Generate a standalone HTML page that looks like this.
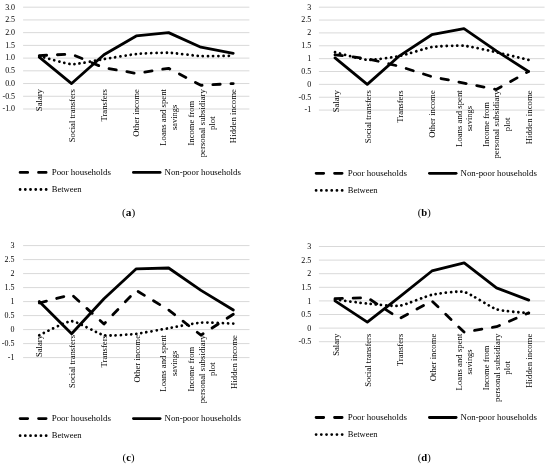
<!DOCTYPE html>
<html><head><meta charset="utf-8"><title>Figure</title>
<style>
html,body{margin:0;padding:0;background:#fff;}
svg{display:block;font-family:"Liberation Serif", serif;fill:#000;}
</style></head><body>
<svg width="550" height="467" viewBox="0 0 550 467">
<rect width="550" height="467" fill="#fff"/>
<g>
<line x1="23.10" x2="249.40" y1="7.20" y2="7.20" stroke="#d9d9d9" stroke-width="1"/>
<text transform="translate(15.10 9.55) scale(1.05 1)" text-anchor="end" font-size="7.60">3.0</text>
<line x1="23.10" x2="249.40" y1="19.93" y2="19.93" stroke="#d9d9d9" stroke-width="1"/>
<text transform="translate(15.10 22.28) scale(1.05 1)" text-anchor="end" font-size="7.60">2.5</text>
<line x1="23.10" x2="249.40" y1="32.65" y2="32.65" stroke="#d9d9d9" stroke-width="1"/>
<text transform="translate(15.10 35.00) scale(1.05 1)" text-anchor="end" font-size="7.60">2.0</text>
<line x1="23.10" x2="249.40" y1="45.38" y2="45.38" stroke="#d9d9d9" stroke-width="1"/>
<text transform="translate(15.10 47.73) scale(1.05 1)" text-anchor="end" font-size="7.60">1.5</text>
<line x1="23.10" x2="249.40" y1="58.10" y2="58.10" stroke="#d9d9d9" stroke-width="1"/>
<text transform="translate(15.10 60.45) scale(1.05 1)" text-anchor="end" font-size="7.60">1.0</text>
<line x1="23.10" x2="249.40" y1="70.83" y2="70.83" stroke="#d9d9d9" stroke-width="1"/>
<text transform="translate(15.10 73.17) scale(1.05 1)" text-anchor="end" font-size="7.60">0.5</text>
<line x1="23.10" x2="249.40" y1="83.55" y2="83.55" stroke="#d9d9d9" stroke-width="1"/>
<text transform="translate(15.10 85.90) scale(1.05 1)" text-anchor="end" font-size="7.60">0.0</text>
<line x1="23.10" x2="249.40" y1="96.28" y2="96.28" stroke="#d9d9d9" stroke-width="1"/>
<text transform="translate(15.10 98.62) scale(1.05 1)" text-anchor="end" font-size="7.60">-0.5</text>
<line x1="23.10" x2="249.40" y1="109.00" y2="109.00" stroke="#d9d9d9" stroke-width="1"/>
<text transform="translate(15.10 111.35) scale(1.05 1)" text-anchor="end" font-size="7.60">-1.0</text>
<text transform="translate(42.46 89.05) rotate(-90)" text-anchor="end" font-size="9.20" textLength="22.10" lengthAdjust="spacingAndGlyphs">Salary</text>
<text transform="translate(74.79 89.05) rotate(-90)" text-anchor="end" font-size="9.20" textLength="53.10" lengthAdjust="spacingAndGlyphs">Social transfers</text>
<text transform="translate(107.12 89.05) rotate(-90)" text-anchor="end" font-size="9.20" textLength="32.50" lengthAdjust="spacingAndGlyphs">Transfers</text>
<text transform="translate(139.45 89.05) rotate(-90)" text-anchor="end" font-size="9.20" textLength="47.60" lengthAdjust="spacingAndGlyphs">Other income</text>
<text transform="translate(166.08 89.05) rotate(-90)" text-anchor="end" font-size="9.20" textLength="56.70" lengthAdjust="spacingAndGlyphs">Loans and spent</text>
<text transform="translate(177.28 104.85) rotate(-90)" text-anchor="end" font-size="9.20" textLength="25.10" lengthAdjust="spacingAndGlyphs">savings</text>
<text transform="translate(194.01 100.85) rotate(-90)" text-anchor="end" font-size="9.20" textLength="44.70" lengthAdjust="spacingAndGlyphs">Income from</text>
<text transform="translate(204.61 89.05) rotate(-90)" text-anchor="end" font-size="9.20" textLength="68.30" lengthAdjust="spacingAndGlyphs">personal subsidiary</text>
<text transform="translate(215.21 116.35) rotate(-90)" text-anchor="end" font-size="9.20" textLength="13.70" lengthAdjust="spacingAndGlyphs">plot</text>
<text transform="translate(236.44 89.05) rotate(-90)" text-anchor="end" font-size="9.20" textLength="54.10" lengthAdjust="spacingAndGlyphs">Hidden income</text>
<path d="M39.26 55.55 L71.59 54.16 L103.92 67.77 L136.25 73.37 L168.58 68.28 L200.91 85.33 L233.24 83.55" fill="none" stroke="#000" stroke-width="2.80" stroke-linecap="round" stroke-linejoin="round" stroke-dasharray="7.4 10.746"/>
<path d="M39.26 57.08 L71.59 83.55 L103.92 54.79 L136.25 35.96 L168.58 32.65 L200.91 47.16 L233.24 53.26" fill="none" stroke="#000" stroke-width="2.80" stroke-linecap="round" stroke-linejoin="round"/>
<path d="M39.26 56.06 C42.01 56.76 66.10 63.95 71.59 64.21 C77.09 64.47 98.43 59.98 103.92 59.12 C109.42 58.25 130.75 54.57 136.25 54.03 C141.75 53.49 163.08 52.58 168.58 52.76 C174.07 52.93 195.41 55.80 200.91 56.06 C206.40 56.32 230.49 55.83 233.24 55.81" fill="none" stroke="#000" stroke-width="2.80" stroke-linecap="round" stroke-linejoin="round" stroke-dasharray="0.01 5.1670"/>
<path d="M20.10 172.40 H46.10" fill="none" stroke="#000" stroke-width="2.80" stroke-linecap="round" stroke-linejoin="round" stroke-dasharray="7.6 10.85"/>
<text x="51.70" y="175.10" font-size="9.00" textLength="59.3" lengthAdjust="spacingAndGlyphs">Poor households</text>
<path d="M133.40 172.40 H160.10" fill="none" stroke="#000" stroke-width="2.80" stroke-linecap="round" stroke-linejoin="round"/>
<text x="164.50" y="175.10" font-size="9.00" textLength="76.4" lengthAdjust="spacingAndGlyphs">Non-poor households</text>
<path d="M20.10 189.50 H46.60" fill="none" stroke="#000" stroke-width="2.80" stroke-linecap="round" stroke-linejoin="round" stroke-dasharray="0.01 5.2"/>
<text x="51.70" y="192.20" font-size="9.00" textLength="29.9" lengthAdjust="spacingAndGlyphs">Between</text>
<text x="122.05" y="216.30" font-size="10" textLength="13.20" lengthAdjust="spacingAndGlyphs">(<tspan font-weight="bold">a</tspan>)</text>
</g>
<g>
<line x1="318.90" x2="544.60" y1="7.20" y2="7.20" stroke="#d9d9d9" stroke-width="1"/>
<text transform="translate(311.20 9.55) scale(1.05 1)" text-anchor="end" font-size="7.60">3</text>
<line x1="318.90" x2="544.60" y1="20.06" y2="20.06" stroke="#d9d9d9" stroke-width="1"/>
<text transform="translate(311.20 22.41) scale(1.05 1)" text-anchor="end" font-size="7.60">2.5</text>
<line x1="318.90" x2="544.60" y1="32.92" y2="32.92" stroke="#d9d9d9" stroke-width="1"/>
<text transform="translate(311.20 35.27) scale(1.05 1)" text-anchor="end" font-size="7.60">2</text>
<line x1="318.90" x2="544.60" y1="45.78" y2="45.78" stroke="#d9d9d9" stroke-width="1"/>
<text transform="translate(311.20 48.13) scale(1.05 1)" text-anchor="end" font-size="7.60">1.5</text>
<line x1="318.90" x2="544.60" y1="58.64" y2="58.64" stroke="#d9d9d9" stroke-width="1"/>
<text transform="translate(311.20 60.99) scale(1.05 1)" text-anchor="end" font-size="7.60">1</text>
<line x1="318.90" x2="544.60" y1="71.50" y2="71.50" stroke="#d9d9d9" stroke-width="1"/>
<text transform="translate(311.20 73.85) scale(1.05 1)" text-anchor="end" font-size="7.60">0.5</text>
<line x1="318.90" x2="544.60" y1="84.36" y2="84.36" stroke="#d9d9d9" stroke-width="1"/>
<text transform="translate(311.20 86.71) scale(1.05 1)" text-anchor="end" font-size="7.60">0</text>
<line x1="318.90" x2="544.60" y1="97.22" y2="97.22" stroke="#d9d9d9" stroke-width="1"/>
<text transform="translate(311.20 99.57) scale(1.05 1)" text-anchor="end" font-size="7.60">-0.5</text>
<line x1="318.90" x2="544.60" y1="110.08" y2="110.08" stroke="#d9d9d9" stroke-width="1"/>
<text transform="translate(311.20 112.43) scale(1.05 1)" text-anchor="end" font-size="7.60">-1</text>
<text transform="translate(338.62 90.26) rotate(-90)" text-anchor="end" font-size="9.20" textLength="22.10" lengthAdjust="spacingAndGlyphs">Salary</text>
<text transform="translate(370.86 90.26) rotate(-90)" text-anchor="end" font-size="9.20" textLength="53.10" lengthAdjust="spacingAndGlyphs">Social transfers</text>
<text transform="translate(403.11 90.26) rotate(-90)" text-anchor="end" font-size="9.20" textLength="32.50" lengthAdjust="spacingAndGlyphs">Transfers</text>
<text transform="translate(435.35 90.26) rotate(-90)" text-anchor="end" font-size="9.20" textLength="47.60" lengthAdjust="spacingAndGlyphs">Other income</text>
<text transform="translate(462.04 90.26) rotate(-90)" text-anchor="end" font-size="9.20" textLength="56.70" lengthAdjust="spacingAndGlyphs">Loans and spent</text>
<text transform="translate(472.24 106.06) rotate(-90)" text-anchor="end" font-size="9.20" textLength="25.10" lengthAdjust="spacingAndGlyphs">savings</text>
<text transform="translate(488.64 102.06) rotate(-90)" text-anchor="end" font-size="9.20" textLength="44.70" lengthAdjust="spacingAndGlyphs">Income from</text>
<text transform="translate(499.39 90.26) rotate(-90)" text-anchor="end" font-size="9.20" textLength="68.30" lengthAdjust="spacingAndGlyphs">personal subsidiary</text>
<text transform="translate(510.14 117.56) rotate(-90)" text-anchor="end" font-size="9.20" textLength="13.70" lengthAdjust="spacingAndGlyphs">plot</text>
<text transform="translate(532.08 90.26) rotate(-90)" text-anchor="end" font-size="9.20" textLength="54.10" lengthAdjust="spacingAndGlyphs">Hidden income</text>
<path d="M335.02 54.78 L367.26 58.64 L399.51 66.36 L431.75 76.64 L463.99 83.07 L496.24 89.50 L528.48 71.50" fill="none" stroke="#000" stroke-width="2.80" stroke-linecap="round" stroke-linejoin="round" stroke-dasharray="7.4 10.769"/>
<path d="M335.02 57.87 L367.26 84.36 L399.51 55.81 L431.75 34.72 L463.99 28.55 L496.24 50.92 L528.48 71.50" fill="none" stroke="#000" stroke-width="2.80" stroke-linecap="round" stroke-linejoin="round"/>
<path d="M335.02 52.21 C337.76 52.87 361.78 59.60 367.26 59.93 C372.75 60.25 394.03 57.16 399.51 56.07 C404.99 54.97 426.27 47.94 431.75 47.07 C437.23 46.19 458.51 45.34 463.99 45.78 C469.47 46.22 490.75 51.01 496.24 52.21 C501.72 53.41 525.74 59.27 528.48 59.93" fill="none" stroke="#000" stroke-width="2.80" stroke-linecap="round" stroke-linejoin="round" stroke-dasharray="0.01 5.1835"/>
<path d="M316.10 173.30 H342.10" fill="none" stroke="#000" stroke-width="2.80" stroke-linecap="round" stroke-linejoin="round" stroke-dasharray="7.6 10.85"/>
<text x="347.70" y="176.00" font-size="9.00" textLength="59.3" lengthAdjust="spacingAndGlyphs">Poor households</text>
<path d="M429.40 173.30 H456.10" fill="none" stroke="#000" stroke-width="2.80" stroke-linecap="round" stroke-linejoin="round"/>
<text x="460.50" y="176.00" font-size="9.00" textLength="76.4" lengthAdjust="spacingAndGlyphs">Non-poor households</text>
<path d="M316.10 190.40 H342.60" fill="none" stroke="#000" stroke-width="2.80" stroke-linecap="round" stroke-linejoin="round" stroke-dasharray="0.01 5.2"/>
<text x="347.70" y="193.10" font-size="9.00" textLength="29.9" lengthAdjust="spacingAndGlyphs">Between</text>
<text x="417.80" y="216.30" font-size="10" textLength="13.00" lengthAdjust="spacingAndGlyphs">(<tspan font-weight="bold">b</tspan>)</text>
</g>
<g>
<line x1="23.10" x2="249.50" y1="245.60" y2="245.60" stroke="#d9d9d9" stroke-width="1"/>
<text transform="translate(14.50 247.95) scale(1.05 1)" text-anchor="end" font-size="7.60">3</text>
<line x1="23.10" x2="249.50" y1="259.60" y2="259.60" stroke="#d9d9d9" stroke-width="1"/>
<text transform="translate(14.50 261.95) scale(1.05 1)" text-anchor="end" font-size="7.60">2.5</text>
<line x1="23.10" x2="249.50" y1="273.60" y2="273.60" stroke="#d9d9d9" stroke-width="1"/>
<text transform="translate(14.50 275.95) scale(1.05 1)" text-anchor="end" font-size="7.60">2</text>
<line x1="23.10" x2="249.50" y1="287.60" y2="287.60" stroke="#d9d9d9" stroke-width="1"/>
<text transform="translate(14.50 289.95) scale(1.05 1)" text-anchor="end" font-size="7.60">1.5</text>
<line x1="23.10" x2="249.50" y1="301.60" y2="301.60" stroke="#d9d9d9" stroke-width="1"/>
<text transform="translate(14.50 303.95) scale(1.05 1)" text-anchor="end" font-size="7.60">1</text>
<line x1="23.10" x2="249.50" y1="315.60" y2="315.60" stroke="#d9d9d9" stroke-width="1"/>
<text transform="translate(14.50 317.95) scale(1.05 1)" text-anchor="end" font-size="7.60">0.5</text>
<line x1="23.10" x2="249.50" y1="329.60" y2="329.60" stroke="#d9d9d9" stroke-width="1"/>
<text transform="translate(14.50 331.95) scale(1.05 1)" text-anchor="end" font-size="7.60">0</text>
<line x1="23.10" x2="249.50" y1="343.60" y2="343.60" stroke="#d9d9d9" stroke-width="1"/>
<text transform="translate(14.50 345.95) scale(1.05 1)" text-anchor="end" font-size="7.60">-0.5</text>
<line x1="23.10" x2="249.50" y1="357.60" y2="357.60" stroke="#d9d9d9" stroke-width="1"/>
<text transform="translate(14.50 359.95) scale(1.05 1)" text-anchor="end" font-size="7.60">-1</text>
<text transform="translate(42.47 335.00) rotate(-90)" text-anchor="end" font-size="9.20" textLength="22.10" lengthAdjust="spacingAndGlyphs">Salary</text>
<text transform="translate(74.81 335.00) rotate(-90)" text-anchor="end" font-size="9.20" textLength="53.10" lengthAdjust="spacingAndGlyphs">Social transfers</text>
<text transform="translate(107.16 335.00) rotate(-90)" text-anchor="end" font-size="9.20" textLength="32.50" lengthAdjust="spacingAndGlyphs">Transfers</text>
<text transform="translate(139.50 335.00) rotate(-90)" text-anchor="end" font-size="9.20" textLength="47.60" lengthAdjust="spacingAndGlyphs">Other income</text>
<text transform="translate(166.14 335.00) rotate(-90)" text-anchor="end" font-size="9.20" textLength="56.70" lengthAdjust="spacingAndGlyphs">Loans and spent</text>
<text transform="translate(177.34 350.80) rotate(-90)" text-anchor="end" font-size="9.20" textLength="25.10" lengthAdjust="spacingAndGlyphs">savings</text>
<text transform="translate(194.09 346.80) rotate(-90)" text-anchor="end" font-size="9.20" textLength="44.70" lengthAdjust="spacingAndGlyphs">Income from</text>
<text transform="translate(204.69 335.00) rotate(-90)" text-anchor="end" font-size="9.20" textLength="68.30" lengthAdjust="spacingAndGlyphs">personal subsidiary</text>
<text transform="translate(215.29 362.30) rotate(-90)" text-anchor="end" font-size="9.20" textLength="13.70" lengthAdjust="spacingAndGlyphs">plot</text>
<text transform="translate(236.53 335.00) rotate(-90)" text-anchor="end" font-size="9.20" textLength="54.10" lengthAdjust="spacingAndGlyphs">Hidden income</text>
<path d="M39.27 303.00 L71.61 294.60 L103.96 324.00 L136.30 290.40 L168.64 310.00 L200.99 335.20 L233.33 314.20" fill="none" stroke="#000" stroke-width="2.80" stroke-linecap="round" stroke-linejoin="round" stroke-dasharray="7.4 10.580"/>
<path d="M39.27 301.60 L71.61 333.80 L103.96 298.80 L136.30 268.84 L168.64 268.00 L200.99 290.40 L233.33 310.00" fill="none" stroke="#000" stroke-width="2.80" stroke-linecap="round" stroke-linejoin="round"/>
<path d="M39.27 335.20 C42.02 334.01 66.12 321.20 71.61 321.20 C77.11 321.20 98.46 334.13 103.96 335.20 C109.46 336.27 130.80 334.40 136.30 333.80 C141.80 333.20 163.14 329.15 168.64 328.20 C174.14 327.25 195.49 322.99 200.99 322.60 C206.48 322.21 230.58 323.50 233.33 323.58" fill="none" stroke="#000" stroke-width="2.80" stroke-linecap="round" stroke-linejoin="round" stroke-dasharray="0.01 5.1441"/>
<path d="M20.10 418.60 H46.10" fill="none" stroke="#000" stroke-width="2.80" stroke-linecap="round" stroke-linejoin="round" stroke-dasharray="7.6 10.85"/>
<text x="51.70" y="421.30" font-size="9.00" textLength="59.3" lengthAdjust="spacingAndGlyphs">Poor households</text>
<path d="M133.40 418.60 H160.10" fill="none" stroke="#000" stroke-width="2.80" stroke-linecap="round" stroke-linejoin="round"/>
<text x="164.50" y="421.30" font-size="9.00" textLength="76.4" lengthAdjust="spacingAndGlyphs">Non-poor households</text>
<path d="M20.10 435.70 H46.60" fill="none" stroke="#000" stroke-width="2.80" stroke-linecap="round" stroke-linejoin="round" stroke-dasharray="0.01 5.2"/>
<text x="51.70" y="438.40" font-size="9.00" textLength="29.9" lengthAdjust="spacingAndGlyphs">Between</text>
<text x="122.60" y="461.20" font-size="10" textLength="11.90" lengthAdjust="spacingAndGlyphs">(<tspan font-weight="bold">c</tspan>)</text>
</g>
<g>
<line x1="318.90" x2="544.90" y1="246.50" y2="246.50" stroke="#d9d9d9" stroke-width="1"/>
<text transform="translate(311.20 249.10) scale(1.05 1)" text-anchor="end" font-size="7.60">3</text>
<line x1="318.90" x2="544.90" y1="260.10" y2="260.10" stroke="#d9d9d9" stroke-width="1"/>
<text transform="translate(311.20 262.70) scale(1.05 1)" text-anchor="end" font-size="7.60">2.5</text>
<line x1="318.90" x2="544.90" y1="273.70" y2="273.70" stroke="#d9d9d9" stroke-width="1"/>
<text transform="translate(311.20 276.30) scale(1.05 1)" text-anchor="end" font-size="7.60">2</text>
<line x1="318.90" x2="544.90" y1="287.30" y2="287.30" stroke="#d9d9d9" stroke-width="1"/>
<text transform="translate(311.20 289.90) scale(1.05 1)" text-anchor="end" font-size="7.60">1.5</text>
<line x1="318.90" x2="544.90" y1="300.90" y2="300.90" stroke="#d9d9d9" stroke-width="1"/>
<text transform="translate(311.20 303.50) scale(1.05 1)" text-anchor="end" font-size="7.60">1</text>
<line x1="318.90" x2="544.90" y1="314.50" y2="314.50" stroke="#d9d9d9" stroke-width="1"/>
<text transform="translate(311.20 317.10) scale(1.05 1)" text-anchor="end" font-size="7.60">0.5</text>
<line x1="318.90" x2="544.90" y1="328.10" y2="328.10" stroke="#d9d9d9" stroke-width="1"/>
<text transform="translate(311.20 330.70) scale(1.05 1)" text-anchor="end" font-size="7.60">0</text>
<line x1="318.90" x2="544.90" y1="341.70" y2="341.70" stroke="#d9d9d9" stroke-width="1"/>
<text transform="translate(311.20 344.30) scale(1.05 1)" text-anchor="end" font-size="7.60">-0.5</text>
<text transform="translate(338.64 333.70) rotate(-90)" text-anchor="end" font-size="9.20" textLength="22.10" lengthAdjust="spacingAndGlyphs">Salary</text>
<text transform="translate(370.93 333.70) rotate(-90)" text-anchor="end" font-size="9.20" textLength="53.10" lengthAdjust="spacingAndGlyphs">Social transfers</text>
<text transform="translate(403.21 333.70) rotate(-90)" text-anchor="end" font-size="9.20" textLength="32.50" lengthAdjust="spacingAndGlyphs">Transfers</text>
<text transform="translate(435.50 333.70) rotate(-90)" text-anchor="end" font-size="9.20" textLength="47.60" lengthAdjust="spacingAndGlyphs">Other income</text>
<text transform="translate(462.24 333.70) rotate(-90)" text-anchor="end" font-size="9.20" textLength="56.70" lengthAdjust="spacingAndGlyphs">Loans and spent</text>
<text transform="translate(472.44 349.50) rotate(-90)" text-anchor="end" font-size="9.20" textLength="25.10" lengthAdjust="spacingAndGlyphs">savings</text>
<text transform="translate(488.87 345.50) rotate(-90)" text-anchor="end" font-size="9.20" textLength="44.70" lengthAdjust="spacingAndGlyphs">Income from</text>
<text transform="translate(499.62 333.70) rotate(-90)" text-anchor="end" font-size="9.20" textLength="68.30" lengthAdjust="spacingAndGlyphs">personal subsidiary</text>
<text transform="translate(510.37 361.00) rotate(-90)" text-anchor="end" font-size="9.20" textLength="13.70" lengthAdjust="spacingAndGlyphs">plot</text>
<text transform="translate(532.36 333.70) rotate(-90)" text-anchor="end" font-size="9.20" textLength="54.10" lengthAdjust="spacingAndGlyphs">Hidden income</text>
<path d="M335.04 298.72 L367.33 297.64 L399.61 318.58 L431.90 300.90 L464.19 332.18 L496.47 326.74 L528.76 312.87" fill="none" stroke="#000" stroke-width="2.80" stroke-linecap="round" stroke-linejoin="round" stroke-dasharray="7.4 10.719"/>
<path d="M335.04 300.90 L367.33 322.12 L399.61 296.82 L431.90 270.98 L464.19 262.82 L496.47 287.84 L528.76 300.08" fill="none" stroke="#000" stroke-width="2.80" stroke-linecap="round" stroke-linejoin="round"/>
<path d="M335.04 299.54 C337.79 299.89 361.84 303.09 367.33 303.62 C372.82 304.15 394.13 306.55 399.61 305.80 C405.10 305.04 426.41 295.96 431.90 294.78 C437.39 293.60 458.70 290.69 464.19 291.92 C469.67 293.16 490.98 307.53 496.47 309.33 C501.96 311.14 526.01 312.82 528.76 313.14" fill="none" stroke="#000" stroke-width="2.80" stroke-linecap="round" stroke-linejoin="round" stroke-dasharray="0.01 5.1365"/>
<path d="M316.10 417.50 H342.10" fill="none" stroke="#000" stroke-width="2.80" stroke-linecap="round" stroke-linejoin="round" stroke-dasharray="7.6 10.85"/>
<text x="347.70" y="420.20" font-size="9.00" textLength="59.3" lengthAdjust="spacingAndGlyphs">Poor households</text>
<path d="M429.40 417.50 H456.10" fill="none" stroke="#000" stroke-width="2.80" stroke-linecap="round" stroke-linejoin="round"/>
<text x="460.50" y="420.20" font-size="9.00" textLength="76.4" lengthAdjust="spacingAndGlyphs">Non-poor households</text>
<path d="M316.10 434.60 H342.60" fill="none" stroke="#000" stroke-width="2.80" stroke-linecap="round" stroke-linejoin="round" stroke-dasharray="0.01 5.2"/>
<text x="347.70" y="437.30" font-size="9.00" textLength="29.9" lengthAdjust="spacingAndGlyphs">Between</text>
<text x="417.80" y="461.20" font-size="10" textLength="13.00" lengthAdjust="spacingAndGlyphs">(<tspan font-weight="bold">d</tspan>)</text>
</g>
</svg>
</body></html>
